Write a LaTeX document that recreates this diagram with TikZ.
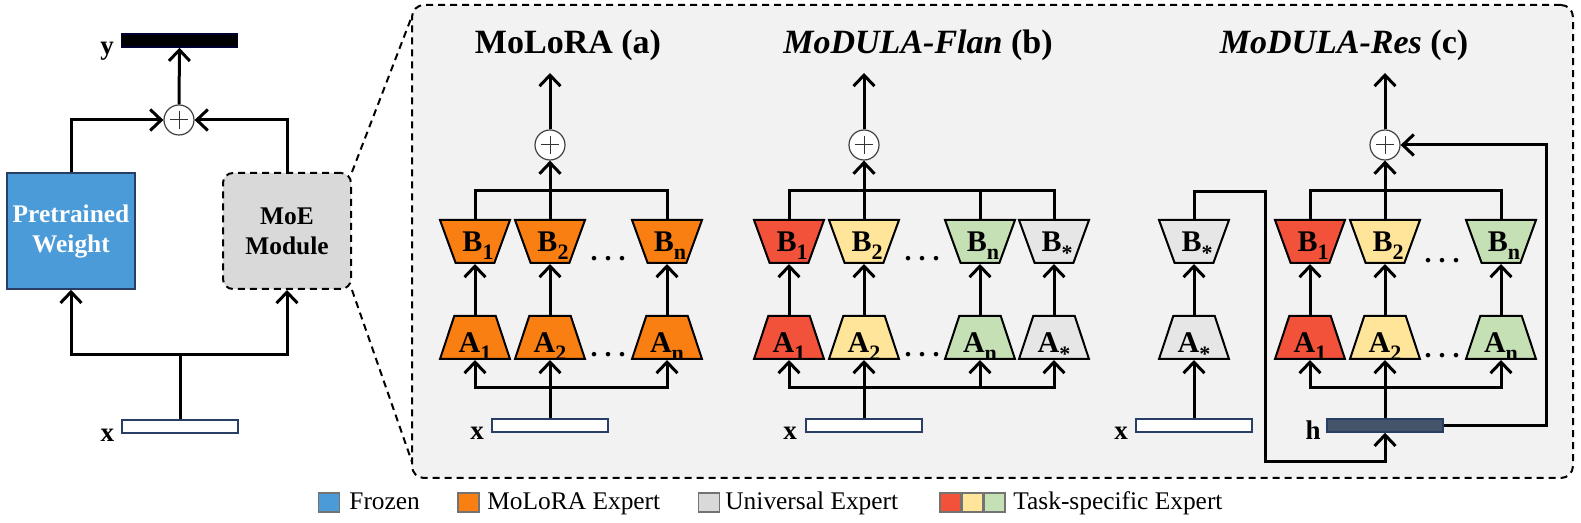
\documentclass[tikz,border=0pt]{standalone}
\usepackage{fontspec}
\setmainfont{Liberation Serif}
\usetikzlibrary{arrows.meta,shapes.geometric,calc}
\definecolor{cBlue}{RGB}{75,155,217}
\definecolor{cOr}{RGB}{250,127,18}
\definecolor{cRed}{RGB}{243,82,58}
\definecolor{cYel}{RGB}{255,229,153}
\definecolor{cGrn}{RGB}{197,224,180}
\definecolor{cGr}{RGB}{230,230,230}
\definecolor{cMoe}{RGB}{217,217,217}
\definecolor{cPanel}{RGB}{242,242,242}
\definecolor{cH}{RGB}{68,84,106}
\definecolor{cEdge}{RGB}{40,62,100}
\newcommand{\subd}[1]{\raisebox{-4pt}{\fontsize{11}{11}\selectfont #1}}
\newcommand{\subst}{\raisebox{-4.5pt}{\fontsize{11}{11}\selectfont *}}
\begin{document}
\begin{tikzpicture}[x=0.5pt,y=-0.5pt,
  conn/.style={line width=1.5pt},
  arr/.style={conn,-{Straight Barb[length=5.5pt,width=10.5pt]}},
  zoomline/.style={line width=1pt,dash pattern=on 3.5pt off 2.5pt},
  panelbox/.style={rectangle,rounded corners=6pt,draw,line width=1pt,dash pattern=on 3.5pt off 2.5pt,fill=cPanel,minimum width=580.5pt,minimum height=236.5pt,inner sep=0},
  bar/.style={rectangle,minimum width=58pt,minimum height=6.5pt,inner sep=0,draw=cEdge,line width=0.8pt},
  lbl/.style={font=\fontsize{13.5}{13.5}\selectfont\bfseries,inner sep=0},
  plus/.style={circle,draw=black!75,line width=0.6pt,fill=white,minimum size=15pt,inner sep=0,
    path picture={\draw[line width=0.5pt,black!80] ([xshift=-4.5pt]path picture bounding box.center) -- ([xshift=4.5pt]path picture bounding box.center) ([yshift=-4.5pt]path picture bounding box.center) -- ([yshift=4.5pt]path picture bounding box.center);}},
  bigbox/.style={rectangle,minimum width=64pt,minimum height=58pt,inner sep=0,align=center,font=\fontsize{12.7}{15}\selectfont\bfseries},
  title/.style={font=\fontsize{17}{20}\selectfont\bfseries,inner sep=0},
  tA/.style={trapezium,trapezium left angle=71,trapezium right angle=71,trapezium stretches=true,minimum width=35pt,minimum height=21.5pt,inner sep=1pt,draw,line width=1pt},
  tB/.style={tA,trapezium left angle=68,trapezium right angle=68,shape border rotate=180},
  lab/.style={font=\fontsize{15}{15}\selectfont\bfseries,inner sep=0,anchor=base},
  dots/.style={font=\fontsize{14}{14}\selectfont\bfseries,inner sep=0},
  lsq/.style={rectangle,minimum width=10.5pt,minimum height=9.5pt,inner sep=0,draw=black!55,line width=0.6pt},
  ltxt/.style={font=\fontsize{12.7}{14}\selectfont,inner sep=0,anchor=base west}
]
\useasboundingbox (0,0) rectangle (1581,523);

% ---------- detail panel background ----------
\node[panelbox] (panel) at (992.5,241.5) {};

% ---------- left overview ----------
\node[bar,fill=black,draw=black!80!blue] (ybar) at (179.5,40.5) {};
\node[lbl,anchor=base] (ylab) at (107,55) {y};
\node[plus] (p0) at (179,120) {};
\node[bigbox,fill=cBlue,draw=cEdge,line width=0.8pt,text=white] (pw) at (71,231) {Pretrained\\Weight};
\node[bigbox,fill=cMoe,draw,line width=1pt,dash pattern=on 3.5pt off 2.5pt,rounded corners=5pt] (moe) at (287,231) {MoE\\Module};
\node[bar,fill=white] (x0) at (180,426.5) {};
\node[lbl,anchor=base] (x0lab) at (107.5,442) {x};
\coordinate (j0) at (180,355);
\draw[arr] (p0.north) -- (ybar.south);
\draw[arr] (pw.north) |- (p0.west);
\draw[arr] (moe.north) |- (p0.east);
\draw[conn] (x0.north) -- (j0);
\draw[arr] (j0) -| (pw.south);
\draw[arr] (j0) -| (moe.south);

\coordinate (pc1) at (412,16);
\coordinate (pc2) at (412,462);
\draw[zoomline] (moe.north east) -- (pc1);
\draw[zoomline] (moe.south east) -- (pc2);

% expert macro: name, x, fill, subscript
\newcommand{\mkexpert}[4]{%
  \node[tB,fill=#3] (#1B) at (#2,241.5) {};
  \node[tA,fill=#3] (#1A) at (#2,337.5) {};
  \node[lab] (#1Bl) at ($(#1B.center)+(3,10.5)$) {B#4};
  \node[lab] (#1Al) at ($(#1A.center)+(0,15.5)$) {A#4};
  \draw[arr] (#1A.north) -- (#1B.south);
}

% ---------- (a) MoLoRA ----------
\node[title] (ta) at (568,45) {MoLoRA (a)};
\node[plus] (pa) at (550,145) {};
\coordinate (oa) at (550,73);
\draw[arr] (pa.north) -- (oa);
\mkexpert{aa}{475}{cOr}{\subd{1}}
\mkexpert{ab}{550}{cOr}{\subd{2}}
\mkexpert{an}{667}{cOr}{\subd{n}}
\node[dots] (ada) at (608,259) {.\ .\ .};
\node[dots] (adb) at (608,355) {.\ .\ .};
\draw[conn] (aaB.north) -- ++(0,-28) -| (anB.north);
\draw[arr] (abB.north) -- (pa.south);
\node[bar,fill=white] (xa) at (550,425.5) {};
\node[lbl,anchor=base] (xalab) at (477,440) {x};
\coordinate (ba) at (550,388);
\draw[arr] (xa.north) -- (abA.south);
\draw[arr] (ba) -| (aaA.south);
\draw[arr] (ba) -| (anA.south);

% ---------- (b) MoDULA-Flan ----------
\node[title] (tb) at (918,45) {\textit{MoDULA-Flan} (b)};
\node[plus] (pb) at (864,145) {};
\coordinate (ob) at (864,73);
\draw[arr] (pb.north) -- (ob);
\mkexpert{ba}{789}{cRed}{\subd{1}}
\mkexpert{bb}{864}{cYel}{\subd{2}}
\mkexpert{bn}{980}{cGrn}{\subd{n}}
\mkexpert{bs}{1054}{cGr}{\subst}
\node[dots] (bda) at (922,259) {.\ .\ .};
\node[dots] (bdb) at (922,355) {.\ .\ .};
\draw[conn] (baB.north) -- ++(0,-28) -| (bsB.north);
\draw[conn] (bnB.north) -- ++(0,-28);
\draw[arr] (bbB.north) -- (pb.south);
\node[bar,fill=white] (xb) at (864,425.5) {};
\node[lbl,anchor=base] (xblab) at (790,440) {x};
\coordinate (bbus) at (864,388);
\draw[arr] (xb.north) -- (bbA.south);
\draw[arr] (bbus) -| (baA.south);
\draw[arr] (bbus) -| (bsA.south);
\draw[arr] (bnA.south |- bbus) -- (bnA.south);

% ---------- (c) MoDULA-Res ----------
\node[title] (tc) at (1344,45) {\textit{MoDULA-Res} (c)};
\node[plus] (pcc) at (1385,145) {};
\coordinate (oc) at (1385,73);
\draw[arr] (pcc.north) -- (oc);
\mkexpert{cs}{1194}{cGr}{\subst}
\mkexpert{ca}{1310}{cRed}{\subd{1}}
\mkexpert{cb}{1385}{cYel}{\subd{2}}
\mkexpert{cn}{1501}{cGrn}{\subd{n}}
\node[dots] (cda) at (1442,261) {.\ .\ .};
\node[dots] (cdb) at (1442,356) {.\ .\ .};
\draw[conn] (caB.north) -- ++(0,-28) -| (cnB.north);
\draw[arr] (cbB.north) -- (pcc.south);
\node[bar,fill=white] (xc) at (1194,425.5) {};
\node[lbl,anchor=base] (xclab) at (1121,440) {x};
\node[bar,fill=cH,draw=cEdge] (hb) at (1385,425.5) {};
\node[lbl,anchor=base] (hlab) at (1313,440) {h};
\draw[arr] (xc.north) -- (csA.south);
\coordinate (r1) at (1265,192);
\coordinate (r2) at (1265,462);
\coordinate (r3) at (1546,145);
\draw[arr] (csB.north) |- (r1) -- (r2) -| (hb.south);
\draw[arr] (hb.east) -| (r3) -- (pcc.east);
\coordinate (cbus) at (1385,388);
\draw[arr] (hb.north) -- (cbA.south);
\draw[arr] (cbus) -| (caA.south);
\draw[arr] (cbus) -| (cnA.south);

% ---------- legend ----------
\node[lsq,fill=cBlue] (lg1) at (329,502.5) {};
\node[ltxt] (lt1) at (349,510) {Frozen};
\node[lsq,fill=cOr] (lg2) at (468.5,502.5) {};
\node[ltxt] (lt2) at (487,510) {MoLoRA Expert};
\node[lsq,fill=cMoe] (lg3) at (709,502.5) {};
\node[ltxt] (lt3) at (725,510) {Universal Expert};
\node[lsq,fill=cRed] (lg4) at (950.5,502.5) {};
\node[lsq,fill=cYel] (lg5) at (972.5,502.5) {};
\node[lsq,fill=cGrn] (lg6) at (994.5,502.5) {};
\node[ltxt] (lt4) at (1013,510) {Task-specific Expert};
\end{tikzpicture}
\end{document}
